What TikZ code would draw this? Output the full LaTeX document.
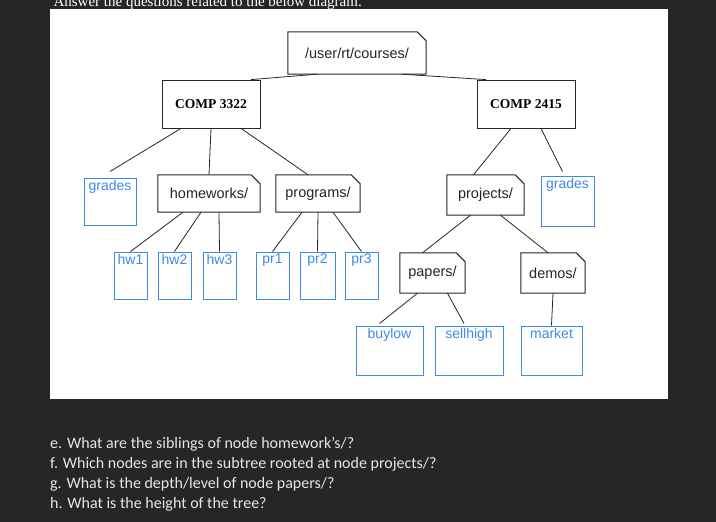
\documentclass[tikz,border=0pt]{standalone}
\usepackage{fontspec}
\setmainfont{Liberation Sans}
\newfontfamily\serifff{Liberation Serif}
\newfontfamily\calib{Carlito}
\usetikzlibrary{calc}
\definecolor{bg}{HTML}{262626}
\definecolor{fblue}{HTML}{3D8AE8}
\definecolor{qtext}{HTML}{E6E6E6}
\tikzset{
  x=1pt,y=-1pt,
  folder/.style={inner sep=0pt,font=\fontsize{14.5}{16}\selectfont,text=black!85},
  comp/.style={draw=black!85,line width=0.8pt,inner sep=0pt,font=\serifff\bfseries\fontsize{13.5}{15}\selectfont},
  file/.style={draw=fblue,line width=1pt,inner sep=0pt},
  lbl/.style={text=fblue,font=\fontsize{14}{16}\selectfont,inner sep=2.5pt},
  edge/.style={draw=black!85,line width=0.8pt},
}
\newcommand{\folderbox}[1]{%
  \draw[black!85,line width=1pt] (#1.south west) -- (#1.north west) -- ($(#1.north east)+(-9,0)$) -- ($(#1.north east)+(0,9)$) -- (#1.south east) -- cycle;}
\newcommand{\filebox}[6]{% name, x1,y1,x2,y2, text
  \node[file,minimum width=#4-#2,minimum height=#5-#3] (#1) at ({(#2+#4)/2},{(#3+#5)/2}) {};
  \node[lbl,anchor=north] (#1t) at (#1.north) {#6};}
\begin{document}
\begin{tikzpicture}
\useasboundingbox (0,0) rectangle (716,522);
\fill[bg] (0,0) rectangle (716,522);
\node[text=white,font=\serifff\fontsize{15}{17}\selectfont,anchor=west] (hdr) at (50,3) {Answer the questions related to the below diagram.};
\fill[white] (50,9) rectangle (668,399);

% folder nodes
\node[folder,minimum width=138,minimum height=42] (root) at (357,53) {/user/rt/courses/};
\node[comp,minimum width=98,minimum height=48] (c1) at (211,104) {COMP 3322};
\node[comp,minimum width=98,minimum height=48] (c2) at (526,104) {COMP 2415};
\node[folder,minimum width=102,minimum height=37] (hw) at (209,193.5) {homeworks/};
\node[folder,minimum width=84,minimum height=37] (pg) at (318,193.5) {programs/};
\node[folder,minimum width=77,minimum height=40] (pj) at (485.5,195) {projects/};
\node[folder,minimum width=65,minimum height=40] (pa) at (432.5,273) {papers/};
\node[folder,minimum width=64,minimum height=40] (de) at (553,273) {demos/};
\foreach \n in {root,hw,pg,pj,pa,de} {\folderbox{\n}}

% file nodes
\filebox{g1}{84}{178}{136}{225}{grades}
\filebox{h1}{114}{252}{147}{299}{hw1}
\filebox{h2}{158}{252}{191}{299}{hw2}
\filebox{h3}{203}{252}{236}{299}{hw3}
\filebox{p1}{256}{252}{289}{299}{pr1}
\filebox{p2}{300}{252}{335}{299}{pr2}
\filebox{p3}{345}{252}{378}{299}{pr3}
\filebox{g2}{541}{176}{594}{226}{grades}
\filebox{b1}{356}{326}{423}{375}{buylow}
\filebox{s1}{435}{326}{503}{375}{sellhigh}
\filebox{m1}{521}{326}{582}{375}{market}

% edges
\draw[edge] ($(root.south)+(-40,0)$) -- ($(c1.north)+(40,0)$);
\draw[edge] ($(root.south)+(45,0)$) -- ($(c2.north)+(-40,0)$);
\draw[edge] ($(c1.south)+(-30,0)$) -- ($(g1.north)+(0,-6)$);
\draw[edge] (c1.south) -- (hw.north);
\draw[edge] ($(c1.south)+(30,0)$) -- ($(pg.north)+(-10,0)$);
\draw[edge] ($(c2.south)+(-15,0)$) -- ($(pj.north)+(-12,0)$);
\draw[edge] ($(c2.south)+(15,0)$) -- ($(g2.north)+(-5,-4)$);
\draw[edge] ($(hw.south)+(-26,0)$) -- (h1.north);
\draw[edge] ($(hw.south)+(-8,0)$) -- (h2.north);
\draw[edge] ($(hw.south)+(10,0)$) -- (h3.north);
\draw[edge] ($(pg.south)+(-16,0)$) -- (p1.north);
\draw[edge] (pg.south) -- (p2.north);
\draw[edge] ($(pg.south)+(15,0)$) -- (p3.north);
\draw[edge] ($(pj.south)+(-15,0)$) -- ($(pa.north)+(-10,0)$);
\draw[edge] ($(pj.south)+(15,0)$) -- ($(de.north)+(-5,0)$);
\draw[edge] ($(pa.south)+(-15,0)$) -- ($(b1.north)+(-10,-2)$);
\draw[edge] ($(pa.south)+(15,0)$) -- ($(s1.north)+(-5,-2)$);
\draw[edge] (de.south) -- (m1.north);

% questions
\node[text=qtext,font=\calib\fontsize{16}{20}\selectfont,anchor=north west,align=left,inner sep=0pt] (q) at (50,437)
{e. What are the siblings of node homework’s/?\\
f. Which nodes are in the subtree rooted at node projects/?\\
g. What is the depth/level of node papers/?\\
h. What is the height of the tree?};
\end{tikzpicture}
\end{document}
